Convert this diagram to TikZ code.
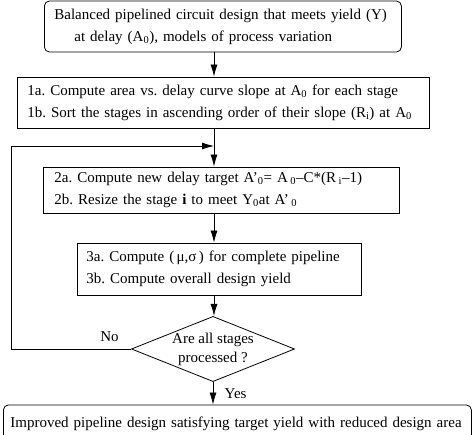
\documentclass[tikz,border=0pt]{standalone}
\usepackage{fontspec}
\setmainfont{Liberation Serif}
\usetikzlibrary{arrows.meta,positioning,shapes.geometric}
\tikzset{
  stepbox/.style={draw=black,line width=0.8pt,minimum height=#1,inner xsep=8pt,align=left,anchor=west},
  stepbox/.default=51pt,
  flow/.style={-{Latex[length=12pt,width=7pt]},line width=0.8pt},
}
\newcommand{\Sub}[1]{\textsubscript{#1}}
\frenchspacing
\begin{document}
\begin{tikzpicture}[font=\fontsize{15}{22}\selectfont]
\begin{scope}[x=1pt,y=-1pt]
\useasboundingbox (0,0) rectangle (474,435);
% \draw[help lines] (0,0) grid[step=50] (474,435);
\coordinate (axis) at (214,0);
\node (start) [stepbox=51pt,rounded corners=5pt,text width=337pt,inner xsep=10pt] at (44,26.5) {Balanced pipelined circuit design that meets yield (Y)\\
\hspace*{20pt}at delay (A\Sub{0}), models of process variation};
\node (s1) [stepbox,text width=392pt,inner xsep=10pt] at (17,102.5) {1a. Compute area vs. delay curve slope at A\Sub{0} for each stage\\
1b. Sort the stages in ascending order of their slope (R\Sub{i}) at A\Sub{0}};
\node (s2) [stepbox=46pt,text width=334pt,inner xsep=11pt] at (43,190) {2a. Compute new delay target A'\Sub{0}= A\,\Sub{0}--C*(R\,\Sub{i}--1)\\
2b. Resize the stage \textbf{i} to meet Y\Sub{0}at A'\,\Sub{0}};
\node (s3) [stepbox=52pt,text width=266pt,inner xsep=9pt] at (77,269) {3a. Compute ($\,$μ,σ$\,$) for complete pipeline\\
3b. Compute overall design yield};
\node (check) [diamond,draw=black,line width=0.8pt,aspect=2.5,inner sep=0pt,minimum width=159pt,minimum height=64pt,align=center,font=\fontsize{15}{19}\selectfont] at (213,349) {Are all stages\\processed ?};
\node (done) [stepbox=38pt,rounded corners=5pt,text width=454pt,inner xsep=7pt] at (3,424) {Improved pipeline design satisfying target yield with reduced design area};
\coordinate (back) at (11,146);
\end{scope}
%
\draw[flow] (start.south -| axis) -- (s1.north -| axis);
\draw[flow] (s1.south -| axis) -- (s2.north -| axis);
\draw[flow] (s2.south -| axis) -- (s3.north -| axis);
\draw[flow] (s3.south -| axis) -- (check.north -| axis);
\draw[flow] (check.south) -- node[right=8pt] {Yes} (done.north -| check.south);
\draw[flow] (check.west) -- node[above=4pt,pos=0.18] {No} (check.west -| back) -- (back) -- (back -| axis);
\end{tikzpicture}
\end{document}
